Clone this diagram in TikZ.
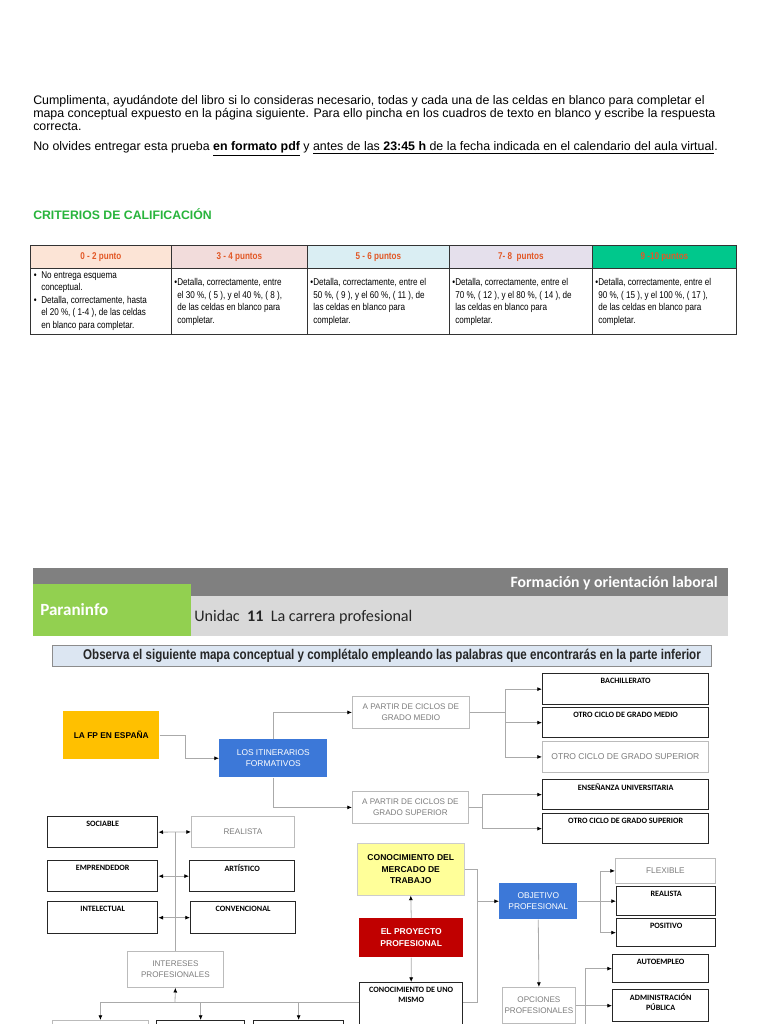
\documentclass[tikz,border=0pt]{standalone}
\usepackage{fontspec}
\setmainfont{Liberation Sans}
\newfontfamily\narrowfont{Liberation Sans}[FakeStretch=0.82]
\newfontfamily\calfont{Carlito}
\usetikzlibrary{arrows.meta}

\definecolor{fpgold}{RGB}{255,192,0}
\definecolor{itblue}{RGB}{60,120,216}
\definecolor{mkyellow}{RGB}{255,255,153}
\definecolor{pyred}{RGB}{192,0,0}
\definecolor{bargray}{RGB}{128,128,128}
\definecolor{bandgray}{RGB}{217,217,217}
\definecolor{paragreen}{RGB}{146,208,80}
\definecolor{obsblue}{RGB}{220,230,242}
\definecolor{linegray}{RGB}{170,170,170}
\definecolor{txtgray}{RGB}{125,125,125}
\definecolor{critgreen}{RGB}{40,180,60}
\definecolor{hdrorange}{RGB}{226,88,38}
\definecolor{colA}{RGB}{252,228,214}
\definecolor{colB}{RGB}{242,220,219}
\definecolor{colC}{RGB}{218,238,243}
\definecolor{colD}{RGB}{229,224,236}
\definecolor{colE}{RGB}{0,200,140}

\tikzset{
  wh/.style 2 args={minimum width=#1*0.75pt, minimum height=#2*0.75pt},
  cell/.style={draw=black!80, line width=0.6pt, inner sep=0pt, anchor=north west},
  hdr/.style={cell, text=hdrorange, font=\narrowfont\bfseries\fontsize{7.4}{9}\selectfont},
  body/.style={anchor=west, align=left, inner sep=0pt, font=\narrowfont\fontsize{7.4}{9.4}\selectfont},
  colbox/.style={inner sep=0pt, anchor=north west, align=center},
  gbox/.style={draw=linegray!80, line width=0.6pt, fill=white, inner sep=0pt, anchor=north west,
    align=center, text=txtgray, font=\fontsize{6.1}{8.4}\selectfont},
  ans/.style={draw=black!85, line width=1pt, fill=white, inner sep=0pt, anchor=north west,
    label={[anchor=north, align=center, yshift=-1.8pt, inner sep=1.5pt,
      font=\calfont\bfseries\fontsize{6.1}{7.6}\selectfont]north:#1}},
  conn/.style={draw=linegray, line width=0.6pt}
}

\begin{document}
\begin{tikzpicture}[x=0.75pt, y=-0.75pt, >={Latex[length=3.5pt,width=3pt,color=black]}]

  \useasboundingbox (0,0) rectangle (768,1024);
  \clip (0,0) rectangle (768,1024);

  % Instructions
  \node[anchor=west, align=left, inner sep=0pt, font=\fontsize{9.3}{9.75}\selectfont] (intro) at (33,113)
    {Cumplimenta, ayudándote del libro si lo consideras necesario, todas y cada una de las celdas en blanco para completar el\\
     mapa conceptual expuesto en la página siguiente. Para ello pincha en los cuadros de texto en blanco y escribe la respuesta\\
     correcta.};
  \node[anchor=west, inner sep=0pt, font=\fontsize{9.3}{9.75}\selectfont] (aviso) at (33,149)
    {No olvides entregar esta prueba \underline{\textbf{en formato pdf}} y \underline{antes de las \textbf{23:45 h} de la fecha indicada en el calendario del aula virtual}.};
  \node[anchor=west, inner sep=0pt, text=critgreen, font=\bfseries\fontsize{9.2}{10}\selectfont] (crit) at (33,214)
    {CRITERIOS DE CALIFICACIÓN};

  % Grading table
  \node[hdr, fill=colA, wh={141}{23}] (h1) at (30,245) {0 - 2 punto};
  \node[hdr, fill=colB, wh={136}{23}] (h2) at (171,245) {3 - 4 puntos};
  \node[hdr, fill=colC, wh={142}{23}] (h3) at (307,245) {5 - 6 puntos};
  \node[hdr, fill=colD, wh={143}{23}] (h4) at (449,245) {7- 8~~puntos};
  \node[hdr, fill=colE, wh={144}{23}] (h5) at (592,245) {9 -10 puntos};
  \node[cell, wh={141}{66}] (c1) at (30,268) {};
  \node[cell, wh={136}{66}] (c2) at (171,268) {};
  \node[cell, wh={142}{66}] (c3) at (307,268) {};
  \node[cell, wh={143}{66}] (c4) at (449,268) {};
  \node[cell, wh={144}{66}] (c5) at (592,268) {};
  \node[body] (t1) at (41,301)
    {\llap{\textbullet\hspace{3.5pt}}No entrega esquema\\ conceptual.\\
     \llap{\textbullet\hspace{3.5pt}}Detalla, correctamente, hasta\\ el 20 \%, ( 1-4 ), de las celdas\\ en blanco para completar.};
  \node[body] (t2) at (177,302)
    {\llap{\textbullet}Detalla, correctamente, entre\\ el 30 \%, ( 5 ), y el 40 \%, ( 8 ),\\ de las celdas en blanco para\\ completar.};
  \node[body] (t3) at (313,302)
    {\llap{\textbullet}Detalla, correctamente, entre el\\ 50 \%, ( 9 ), y el 60 \%, ( 11 ), de\\ las celdas en blanco para\\ completar.};
  \node[body] (t4) at (455,302)
    {\llap{\textbullet}Detalla, correctamente, entre el\\ 70 \%, ( 12 ), y el 80 \%, ( 14 ), de\\ las celdas en blanco para\\ completar.};
  \node[body] (t5) at (598,302)
    {\llap{\textbullet}Detalla, correctamente, entre el\\ 90 \%, ( 15 ), y el 100 \%, ( 17 ),\\ de las celdas en blanco para\\ completar.};

  % Page header
  \node[colbox, fill=bargray, wh={695}{28}] (bar) at (33,568) {};
  \node[colbox, fill=bandgray, wh={537}{40}] (band) at (191,596) {};
  \node[colbox, fill=paragreen, wh={158}{52}] (para) at (33,584) {};
  \node[anchor=east, inner sep=0pt, text=white, font=\calfont\bfseries\fontsize{11.8}{13}\selectfont] (materia) at (718,583)
    {Formación y orientación laboral};
  \node[anchor=west, inner sep=0pt, text=white, font=\calfont\bfseries\fontsize{12.8}{14}\selectfont] (editorial) at (40,610)
    {Paraninfo};
  \node[anchor=west, inner sep=0pt, text=black!85, font=\calfont\fontsize{12.1}{14}\selectfont] (unidad) at (194,617)
    {Unidac~~\textbf{11}~~La carrera profesional};
  \node[colbox, draw=black!45, fill=obsblue, wh={659}{21}] (obs) at (52,645) {};
  \node[inner sep=0pt, text=black!85, font=\narrowfont\bfseries\fontsize{10.6}{12}\selectfont] (obstxt) at (392,655.5)
    {Observa el siguiente mapa conceptual y complétalo empleando las palabras que encontrarás en la parte inferior};

  % Nodes
  \node[colbox, fill=fpgold, wh={96}{48}, font=\bfseries\fontsize{6.3}{8}\selectfont] (fp) at (63,711) {LA FP EN ESPAÑA};
  \node[colbox, fill=itblue, wh={108}{38}, text=white, font=\fontsize{6.3}{8.6}\selectfont] (itin) at (219,739) {LOS ITINERARIOS\\FORMATIVOS};
  \node[gbox, wh={117}{32}] (medio) at (352,696) {A PARTIR DE CICLOS DE\\GRADO MEDIO};
  \node[gbox, wh={116}{32}] (sup) at (352,791) {A PARTIR DE CICLOS DE\\GRADO SUPERIOR};
  \node[ans=BACHILLERATO, wh={166}{31}] (bach) at (542,673) {};
  \node[ans=OTRO CICLO DE GRADO MEDIO, wh={166}{30}] (ocm) at (542,707) {};
  \node[gbox, wh={166}{31}, font=\fontsize{6.4}{8}\selectfont] (ocs) at (542,741) {OTRO CICLO DE GRADO SUPERIOR};
  \node[ans=ENSEÑANZA UNIVERSITARIA, wh={166}{30}] (univ) at (542,779) {};
  \node[ans=OTRO CICLO DE GRADO SUPERIOR, wh={166}{30}] (ocsb) at (542,813) {};

  \node[ans=SOCIABLE, wh={110}{31}] (soc) at (47,816) {};
  \node[ans=EMPRENDEDOR, wh={110}{31}] (emp) at (47,860) {};
  \node[ans=INTELECTUAL, wh={110}{32}] (intel) at (47,901) {};
  \node[gbox, wh={103}{31}] (realg) at (191,816) {REALISTA};
  \node[ans=ARTÍSTICO, wh={105}{31}] (art) at (189,860) {};
  \node[ans=CONVENCIONAL, wh={105}{32}] (conv) at (190,901) {};
  \node[gbox, wh={96}{36}] (inter) at (127,951) {INTERESES\\PROFESIONALES};
  \node[gbox, wh={96}{40}] (bo1) at (52,1020) {};
  \node[ans={}, wh={88}{40}] (bo2) at (156,1020) {};
  \node[ans={}, wh={90}{40}] (bo3) at (253,1020) {};

  \node[colbox, draw=linegray!60, fill=mkyellow, wh={107}{52}, font=\bfseries\fontsize{6.4}{8.8}\selectfont] (merc) at (357,843)
    {CONOCIMIENTO DEL\\MERCADO DE\\TRABAJO};
  \node[colbox, fill=pyred, wh={104}{39}, text=white, font=\bfseries\fontsize{6.4}{8.6}\selectfont] (proy) at (359,918)
    {EL PROYECTO\\PROFESIONAL};
  \node[ans={CONOCIMIENTO DE UNO\\MISMO}, wh={103}{60}] (uno) at (359,982) {};

  \node[colbox, fill=itblue, wh={78}{36}, text=white, font=\fontsize{6.3}{8.6}\selectfont] (obj) at (499,883) {OBJETIVO\\PROFESIONAL};
  \node[gbox, wh={100}{25}, font=\fontsize{6.2}{8}\selectfont] (flex) at (615,858) {FLEXIBLE};
  \node[ans=REALISTA, wh={99}{29}] (real) at (616,886) {};
  \node[ans=POSITIVO, wh={99}{28}] (pos) at (616,918) {};
  \node[gbox, wh={73}{36}] (opc) at (502,987) {OPCIONES\\PROFESIONALES};
  \node[ans=AUTOEMPLEO, wh={96}{28}] (auto) at (612,954) {};
  \node[ans={ADMINISTRACIÓN\\PÚBLICA}, wh={96}{32}] (adm) at (612,989) {};
  \node[ans={}, wh={96}{30}] (otra) at (612,1024) {};

  % Edges
  \draw[conn, ->] (fp.east) -- ++(26,0) |- (itin.west);
  \draw[conn, ->] (itin.north) |- (medio.west);
  \draw[conn, ->] (itin.south) |- (sup.west);
  \draw[conn, ->] (medio.east) -- ++(36,0) |- (bach.west);
  \draw[conn, ->] (medio.east) -- ++(36,0) |- (ocm.west);
  \draw[conn, ->] (medio.east) -- ++(36,0) |- (ocs.west);
  \draw[conn, ->] (sup.east) -- ++(14,0) |- (univ.west);
  \draw[conn, ->] (sup.east) -- ++(14,0) |- (ocsb.west);

  \draw[conn, <->] (soc.east) -- (realg.west);
  \draw[conn, <->] (emp.east) -- (art.west);
  \draw[conn, <->] (intel.east) -- (conv.west);
  \draw[conn] (inter.north) -- (inter.north |- soc.east);
  \coordinate (jn) at (175,1002);
  \draw[conn, ->] (jn) -- (inter.south);
  \draw[conn] (bo1.north |- jn) -- (uno.west |- jn);
  \draw[conn, ->] (bo1.north |- jn) -- (bo1.north);
  \draw[conn, ->] (bo2.north |- jn) -- (bo2.north);
  \draw[conn, ->] (bo3.north |- jn) -- (bo3.north);

  \draw[conn, ->] (proy.north) -- (merc.south);
  \draw[conn, ->] (proy.south) -- (uno.north);
  \coordinate (km) at (477,1002);
  \draw[conn] (merc.east) -| (km) -- (uno.east |- km);
  \draw[conn, ->] (km |- obj.west) -- (obj.west);

  \draw[conn, ->] (obj.east) -- ++(23,0) |- (flex.west);
  \draw[conn, ->] (obj.east) -- ++(23,0) |- (real.west);
  \draw[conn, ->] (obj.east) -- ++(23,0) |- (pos.west);
  \draw[conn, ->] (obj.south) -- (opc.north);
  \draw[conn, ->] (opc.east) -- ++(10,0) |- (auto.west);
  \draw[conn, ->] (opc.east) -- ++(10,0) |- (adm.west);
  \draw[conn, ->] (opc.east) -- ++(10,0) |- (otra.west);
\end{tikzpicture}
\end{document}
